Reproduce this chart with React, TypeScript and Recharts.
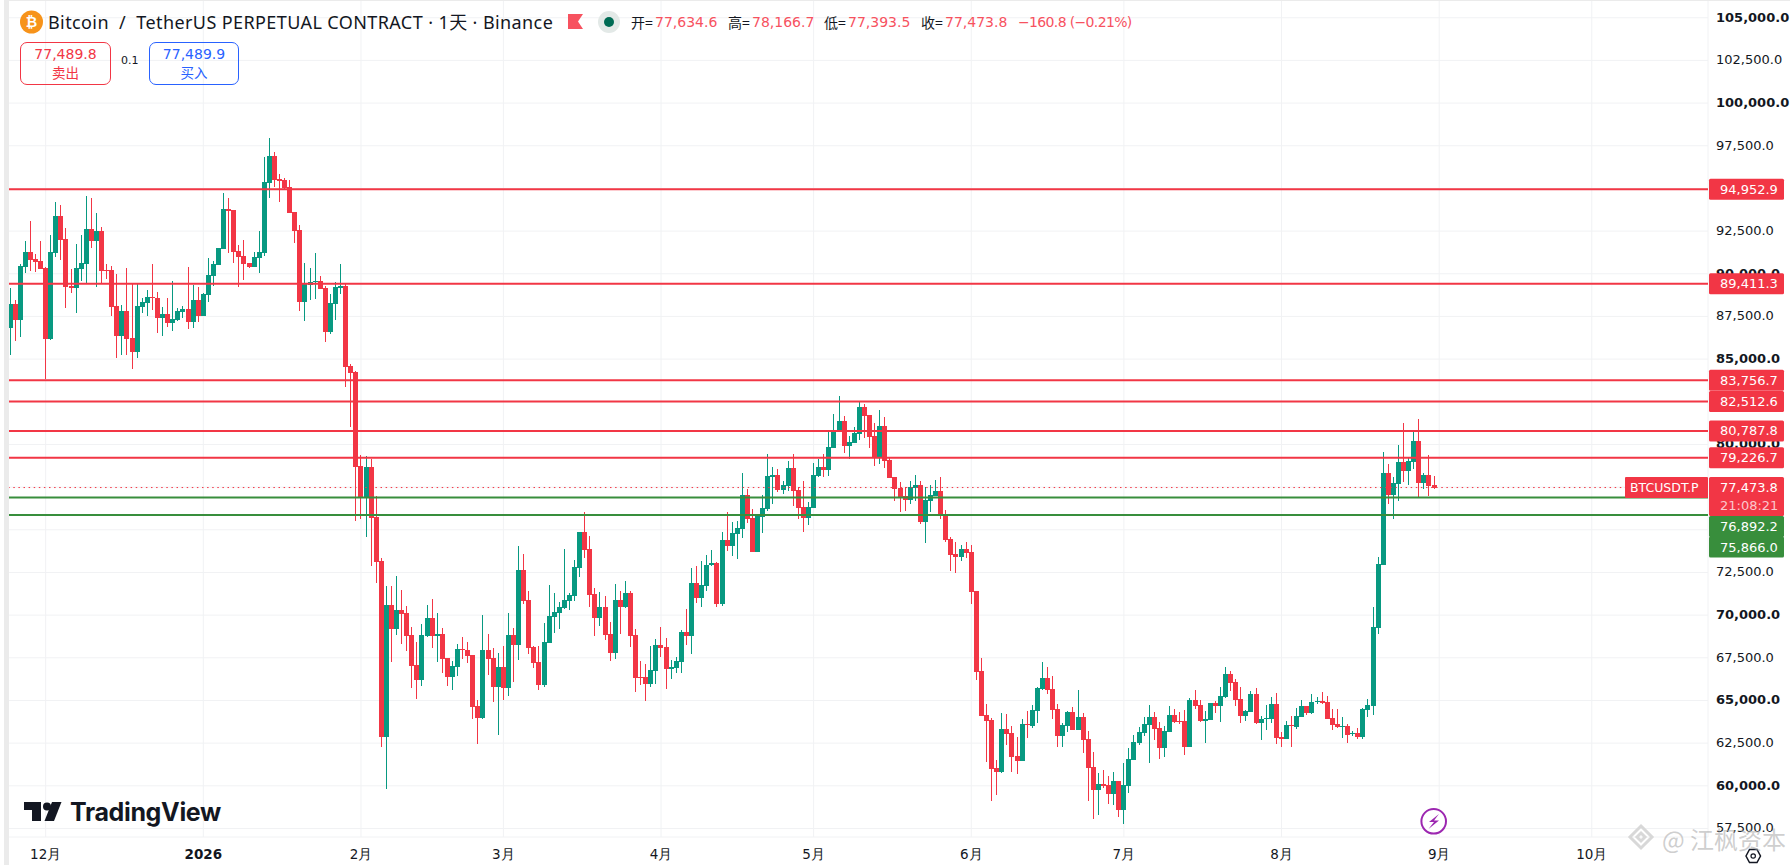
import React from 'react';
import { ComposedChart, Bar, XAxis, YAxis, CartesianGrid, ReferenceLine } from 'recharts';

// Daily candles as [open, high, low, close], by calendar month
const nov2025 = [[86798,89164,85254,88245],[88245,88479,86075,87306],[87306,90591,86309,90474],[90415,91940,90063,91295],[91295,93113,90180,90825],[90884,91177,90122,90708],[90767,91940,90298,90298]];
const dec2025 = [[90356,90415,83827,86192],[86192,92292,86133,91295],[91236,94227,91001,93406],[93406,94051,90825,91998],[92057,92702,88010,89242],[89301,90298,88890,89183],[89183,91764,87717,90356],[90298,92292,89594,90650],[90591,94579,89418,92644],[92644,94462,91529,91940],[91940,93582,89242,92526],[92526,92761,89418,90180],[90239,90591,89711,90180],[90239,90474,87541,88069],[88128,90004,85078,86368],[86368,88186,85254,87834],[87834,90356,85254,86192],[86251,89418,84433,85430],[85430,89418,85078,88128],[88069,88597,87717,88362],[88304,89066,87541,88655],[88655,90591,87893,88597],[88597,88949,86544,87424],[87424,88069,86368,87658],[87658,88597,86896,87131],[87131,89594,86661,87365],[87306,88010,87248,87834],[87776,88128,87424,87952],[87952,90415,86779,87189],[87189,89359,86837,88479],[88479,89242,87189,87541]];
const jan2026 = [[87541,88890,87541,88831],[88773,90943,88362,89946],[89887,90767,89301,90591],[90532,91529,90532,91529],[91471,94755,91471,93817],[93817,94462,91236,93699],[93758,93758,90650,91295],[91353,91705,89242,91001],[91060,91998,89652,90591],[90650,90650,90356,90415],[90415,91295,90415,91001],[90943,92526,90063,91295],[91236,96866,91060,95400],[95342,97981,94462,96925],[96925,97160,95107,95517],[95576,95869,94227,95459],[95517,95635,94931,95048],[95107,95517,93582,93582],[93641,93641,91823,92526],[92585,92878,87834,88362],[88362,90650,87248,89418],[89359,90356,88479,89535],[89535,91236,88538,89594],[89594,89887,89125,89125],[89183,89301,86016,86603],[86603,88831,86485,88304],[88245,89535,87306,89242],[89183,90591,88831,89301],[89301,89418,83377,84550],[84609,84726,81031,84198],[84257,84300,75520,78687]];
const feb2026 = [[78746,79391,75638,76869],[76869,79333,74582,78687],[78687,79157,72881,75696],[75755,76987,71884,73116],[73174,73350,62265,62852],[62852,71708,59802,70594],[70594,71708,67251,69186],[69186,72295,68834,70300],[70300,71473,68306,70066],[70125,70535,67896,68776],[68834,69303,65726,67016],[67075,68424,65081,66195],[66195,69479,65843,68834],[68776,70594,68717,69831],[69831,70946,68072,68776],[68776,70125,67251,68893],[68893,69245,66606,67427],[67485,67485,65843,66371],[66371,67309,65608,67016],[66957,68306,66430,68013],[68013,68717,67427,67954],[67954,68424,67192,67603],[67661,67661,63908,64611],[64670,65022,62441,63966],[63966,70007,63908,67954],[67954,68893,66488,67427],[67485,68072,64905,65784],[65784,67779,62969,66957]];
const mar2026 = [[66957,68189,65022,65726],[65726,70125,65257,68834],[68834,69245,66078,68248],[68248,74054,67368,72646],[72646,73585,70652,70828],[70887,71415,67720,68072],[68130,68189,66899,67192],[67251,68189,65608,65902],[65902,69538,65784,68424],[68365,71767,68365,69949],[69890,71298,68952,70183],[70125,70770,69186,70476],[70418,73878,70359,70887],[70828,71298,70300,71180],[71122,73233,70828,72822],[72764,74875,72236,74875],[74875,76048,73350,73819],[73878,74641,70476,71180],[71239,71591,68776,69831],[69831,71356,69362,70476],[70476,71122,68541,68834],[68893,69597,67309,67779],[67779,71825,67427,70887],[70887,71415,68893,70476],[70476,72001,70418,71298],[71298,71415,68130,68776],[68834,69186,65491,66312],[66371,67309,65902,66312],[66371,67133,64963,65960],[65960,68189,65784,66781],[66723,68600,65960,68248]];
const apr2026 = [[68248,69303,67544,68072],[68130,68658,65667,66840],[66840,67368,66254,66957],[66899,67544,66606,67309],[67251,69127,66606,69010],[69010,70359,68248,68776],[68776,72764,67720,71884],[71884,72881,70711,71004],[71004,73174,70476,71767],[71708,73526,71415,72940],[72920,73819,72880,73057],[73057,73116,70496,70652],[70652,74875,70555,74406],[74406,76048,73761,74054],[74054,75462,73468,74817],[74758,75520,73292,75110],[75051,78336,74523,77045],[77045,77397,75403,75638],[75696,76224,73702,73702],[73702,75931,73702,75872],[75755,77045,74817,76283],[76224,79450,76107,78160],[78101,78687,76517,78218],[78218,78570,77221,77338],[77338,77866,77104,77632],[77573,79039,77280,78629],[78629,79450,76400,77280],[77338,77514,75638,76283],[76341,77866,74875,75696],[75696,76635,75286,76341]];
const may2026 = [[76283,78922,76283,78218],[78160,79157,78101,78687],[78687,79450,78101,78511],[78511,80799,78160,79860],[79802,81796,79802,80857],[80799,82852,80740,81385],[81385,81679,79509,79919],[79919,80506,79157,80154],[80095,81033,80095,80682],[80623,82500,80271,82206],[82206,82382,80388,81679],[81737,81737,79802,80447],[80506,81268,78746,79235],[79235,82030,78863,81092],[81092,81620,78629,79039],[79098,79215,78042,78042],[78101,78101,76693,77397],[77456,77808,76048,76928],[76987,77514,76107,76752],[76752,77866,76517,77514],[77456,78218,76693,77632],[77632,77866,75344,75462],[75462,77514,74230,76752],[76693,77632,76048,77045],[76987,77925,76987,77280],[77280,78101,75638,75872],[75931,76165,74289,74406],[74465,74582,72588,73526],[73585,74289,72471,73409],[73409,74113,73174,73878],[73878,74289,73350,73644]];
const jun2026 = [[73702,74113,70652,71356],[71415,71415,66198,66687],[66726,67488,64087,64087],[64145,64790,61389,63793],[63852,63969,59101,60978],[61037,61506,59453,60802],[60802,64263,60744,63324],[63324,64204,62386,63031],[63090,63500,60802,61682],[61741,62855,60685,61447],[61447,63911,61447,63617],[63617,64380,62796,63559],[63500,64732,63383,64438],[64380,65787,63676,65729],[65670,67254,65611,66315],[66315,66960,65377,65611],[65670,66433,63911,64438],[64497,64790,62268,62914],[62914,63676,62268,63559],[63500,64380,63148,64321],[64321,64614,63265,63265],[63265,65611,63265,64028],[64028,64263,61917,62679],[62738,63207,59101,61037],[61095,61975,58046,59746],[59746,60744,58280,60098],[60098,60919,59864,59981],[60040,60568,58925,59512],[59512,60802,58867,60274],[60274,60274,58163,58573]];
const jul2026 = [[58573,61330,57752,60040],[59981,62210,59571,61565],[61506,62972,61506,62562],[62503,63441,62386,63148],[63090,64028,62914,63617],[63559,64732,61330,64028],[64028,64321,62679,63324],[63383,63735,61565,62210],[62210,63500,61682,63207],[63148,64673,63148,64145],[64145,64497,63676,63735],[63793,64321,63617,63735],[63793,64438,61799,62268],[62268,65142,62268,65025],[65025,65611,64497,64673],[64732,65025,63735,63793],[63793,64380,62503,63911],[63852,64849,63852,64849],[64849,64966,64263,64673],[64673,65787,63735,65260],[65201,66960,65142,66550],[66550,66726,65553,66022],[66081,66257,64673,65025],[65084,65787,63676,64087],[64087,64438,63793,64380],[64321,65553,64321,65377],[65377,65729,63617,63676],[63676,64087,62679,63911],[63911,64732,63265,63969],[63911,65201,63676,64790],[64790,65436,62444,62796]];
const aug2026 = [[62855,63148,62268,62738],[62738,63793,62738,63559],[63559,64087,62268,63500],[63441,64556,63324,64087],[64028,65025,64028,64673],[64673,64673,64145,64263],[64263,65377,64204,64908],[64908,65201,64790,64966],[64966,65494,64790,64849],[64908,65260,63911,63911],[63969,64497,63265,63559],[63617,64497,63383,63441],[63441,64028,62796,63500],[63500,63617,62503,62972],[63031,63207,62914,63090],[63090,63383,62738,62855],[62855,64556,62738,64497],[64438,65084,64028,64732],[64670,70476,64142,69303],[69244,73408,68892,72998],[72939,79567,72939,78335],[78335,78863,76517,77045],[77045,78100,75637,77749],[77690,79977,76693,78980],[78980,81268,77807,78452],[78452,79215,77631,79039],[78980,80857,78570,80212],[80212,81502,76869,77749],[77749,78335,77397,78218],[78218,79391,76986,77573],[77634.6,78166.7,77393.5,77473.8]];

const firstDay = -7;        // days are counted from 1 Dec 2025
const totalDays = 334;      // days shown on the time axis, including the empty future
const monthTicks = [0, 31, 62, 90, 121, 151, 182, 212, 243, 274, 304];
const monthLabels = ['12月', '2026', '2月', '3月', '4月', '5月', '6月', '7月', '8月', '9月', '10月'];
const priceTicks = [57500, 60000, 62500, 65000, 67500, 70000, 72500, 75000, 77500, 80000, 82500, 85000, 87500, 90000, 92500, 95000, 97500, 100000, 102500, 105000];
const priceDomain = [57000, 106040];
const resistance = [94952.9, 89411.3, 83756.7, 82512.6, 80787.8, 79226.7];
const support = [76892.2, 75866.0];
const lastPrice = 77473.8;
const countdown = '21:08:21';
const legendValues = ['77,634.6', '78,166.7', '77,393.5', '77,473.8'];
const legendNames = ['开=', '高=', '低=', '收='];

const UP = '#089981';
const DOWN = '#f23645';
const LINE_GREEN = '#388e3c';
const GRID = '#f1f2f4';
const AXIS_TEXT = '#131722';
const FONT = '"DejaVu Sans", sans-serif';
const TOP_LAYER = 3000;

const allCandles = [...nov2025, ...dec2025, ...jan2026, ...feb2026, ...mar2026, ...apr2026, ...may2026, ...jun2026, ...jul2026, ...aug2026];
const rows = Array.from({ length: totalDays }, (_, i) => {
  const c = allCandles[i];
  const day = firstDay + i;
  return c ? { day, open: c[0], high: c[1], low: c[2], close: c[3], range: [c[2], c[1]] } : { day };
});

const fmt = (v: number) => v.toLocaleString('en-US', { minimumFractionDigits: 1, maximumFractionDigits: 1 });

function Candle(props: any) {
  const { x, y, width, height, payload } = props;
  if (!payload || payload.open == null || !height) return null;
  const k = height / (payload.high - payload.low);
  const top = y + (payload.high - Math.max(payload.open, payload.close)) * k;
  const bottom = y + (payload.high - Math.min(payload.open, payload.close)) * k;
  const color = payload.close >= payload.open ? UP : DOWN;
  const cx = x + width / 2;
  const left = Math.round(cx - 2.5);
  const t = Math.round(top);
  return (
    <g shapeRendering="crispEdges">
      <rect x={left + 2} y={Math.round(y)} width={1} height={Math.max(1, Math.round(height))} fill={color} />
      <rect x={left} y={t} width={5} height={Math.max(1, Math.round(bottom) - t)} fill={color} />
    </g>
  );
}

function PriceTick(props: any) {
  const { x, y, payload } = props;
  const major = payload.value % 5000 === 0;
  return (
    <text x={x} y={y} dy={3.8} textAnchor="start" fontFamily={FONT} fontSize={13} fontWeight={major ? 700 : 400} fill={AXIS_TEXT}>
      {fmt(payload.value)}
    </text>
  );
}

function TimeTick(props: any) {
  const { x, y, payload } = props;
  const label = monthLabels[monthTicks.indexOf(payload.value)];
  return (
    <text x={x} y={y} dy={16} textAnchor="middle" fontFamily={FONT} fontSize={13.5} fontWeight={label === '2026' ? 700 : 400} fill={AXIS_TEXT}>
      {label}
    </text>
  );
}

function PriceBadge(props: any) {
  const { viewBox, text, fill, shift = 0 } = props;
  const right = viewBox.x + viewBox.width;
  const cy = viewBox.y + shift;
  return (
    <g>
      <rect x={right + 1} y={cy - 10.5} width={75} height={21} rx={1.5} fill={fill} />
      <text x={right + 12} y={cy + 4.5} fontFamily={FONT} fontSize={13} fill="#fff">{text}</text>
    </g>
  );
}

function LastPriceBadge(props: any) {
  const { viewBox } = props;
  const right = viewBox.x + viewBox.width;
  const cy = viewBox.y;
  return (
    <g>
      <rect x={right - 83} y={cy - 10.5} width={83} height={21} rx={1} fill={DOWN} />
      <text x={right - 78} y={cy + 4.5} fontFamily={FONT} fontSize={12.5} fill="#fff">BTCUSDT.P</text>
      <rect x={right + 1} y={cy - 10.5} width={75} height={39} rx={1.5} fill={DOWN} />
      <text x={right + 12} y={cy + 4.5} fontFamily={FONT} fontSize={13} fill="#fff">{fmt(lastPrice)}</text>
      <text x={right + 12} y={cy + 22} fontFamily={FONT} fontSize={13} fill="#fbc7cc">{countdown}</text>
    </g>
  );
}

const abs = (s: React.CSSProperties): React.CSSProperties => ({ position: 'absolute', whiteSpace: 'nowrap', ...s });
const legendX = [631, 728, 824, 921];

function Overlay() {
  const red = '#f7525f';
  const txt: React.CSSProperties = { fontFamily: FONT, fontSize: 14, lineHeight: '18px', top: 13 };
  const btn: React.CSSProperties = { top: 42, height: 43, boxSizing: 'border-box', borderRadius: 7, textAlign: 'center', fontFamily: FONT, fontSize: 14, lineHeight: '18px', paddingTop: 2 };
  const cjk: React.CSSProperties = { fontFamily: '"Noto Sans CJK SC"', fontSize: 13.5 };
  return (
    <>
      <div style={abs({ left: 4, top: 0, width: 5, height: 865, background: '#ebebeb' })} />
      <div style={abs({ left: 9, top: 0, width: 1781, height: 1, background: '#ebebeb' })} />
      <svg style={abs({ left: 0, top: 0 })} width={1790} height={865}>
        <circle cx={31.5} cy={22} r={11.5} fill="#f7931a" />
        <text x={31.5} y={27} textAnchor="middle" fontSize={14} fontWeight={700} fontFamily={FONT} fill="#fff">₿</text>
        <path d="M568 14 H583 L578 21.5 L583 29 H568 Z" fill="#f7525f" />
        <ellipse cx={609} cy={22} rx={11} ry={11} fill="#e3e9e7" />
        <circle cx={609} cy={22} r={5} fill="#006b54" />
        {/* TradingView mark */}
        <path d="M24 802 H41 V821 H32 V810 H24 Z" fill={AXIS_TEXT} />
        <circle cx={47} cy={806.5} r={4} fill={AXIS_TEXT} />
        <path d="M52 802 H61.5 L54 821 H44.5 Z" fill={AXIS_TEXT} />
        {/* alert icon */}
        <circle cx={1433.7} cy={821.3} r={12.3} fill="#fff" stroke="#9c27b0" strokeWidth={2} />
        <path d="M1439 814 L1429 822 H1434 L1428.5 829 L1439 820.5 H1434 Z" fill="#9c27b0" />
        {/* settings icon */}
        <path d="M1746 856 L1749.5 849.5 H1757 L1760.5 856 L1757 862.5 H1749.5 Z" fill="none" stroke={AXIS_TEXT} strokeWidth={1.5} />
        <circle cx={1753.2} cy={856} r={2.2} fill="none" stroke={AXIS_TEXT} strokeWidth={1.2} />
        {/* watermark logo */}
        <g fill="none" stroke="#d8d8d8" strokeWidth={3}>
          <path d="M1641 826 L1652 837 L1641 848 L1630 837 Z" />
          <path d="M1641 833 L1645 837 L1641 841 L1637 837 Z" />
        </g>
      </svg>
      <div style={abs({ left: 48, top: 10, fontFamily: '"Noto Sans", "Noto Sans CJK SC", sans-serif', fontSize: 18, letterSpacing: 0.4, lineHeight: '24px', color: AXIS_TEXT })}>
        {'Bitcoin\u00a0\u00a0/\u00a0\u00a0TetherUS PERPETUAL CONTRACT · 1天 · Binance'}
      </div>
      {legendNames.map((n, i) => (
        <React.Fragment key={n}>
          <span style={abs({ ...txt, left: legendX[i], color: AXIS_TEXT, fontFamily: '"Noto Sans CJK SC", ' + FONT })}>{n}</span>
          <span style={abs({ ...txt, left: legendX[i] + 24, color: red })}>{legendValues[i]}</span>
        </React.Fragment>
      ))}
      <span style={abs({ ...txt, left: 1018, color: red, letterSpacing: -0.65 })}>−160.8 (−0.21%)</span>
      <div style={abs({ ...btn, left: 20, width: 91, border: `1px solid ${DOWN}`, color: DOWN })}>
        77,489.8<br /><span style={cjk}>卖出</span>
      </div>
      <span style={abs({ left: 121, top: 54, fontFamily: FONT, fontSize: 11, color: AXIS_TEXT })}>0.1</span>
      <div style={abs({ ...btn, left: 149, width: 90, border: '1px solid #2962ff', color: '#2962ff' })}>
        77,489.9<br /><span style={cjk}>买入</span>
      </div>
      <div style={abs({ left: 70, top: 796, fontFamily: '"Inter", sans-serif', fontWeight: 700, fontSize: 25, lineHeight: '32px', letterSpacing: -0.35, color: AXIS_TEXT })}>TradingView</div>
      <div style={abs({ left: 1662, top: 823, fontFamily: '"Noto Sans CJK SC", sans-serif', fontSize: 24, lineHeight: '32px', color: 'rgba(165,165,165,0.55)' })}>@ 江枫资本</div>
    </>
  );
}

export default function App() {
  return (
    <div style={{ position: 'relative', width: 1790, height: 865, overflow: 'hidden', background: '#fff' }}>
      <style>{'body{margin:0}'}</style>
      <ComposedChart width={1790} height={865} data={rows} barCategoryGap={0} margin={{ top: 0, right: 0, bottom: 0, left: 7.5 }}>
        <CartesianGrid stroke={GRID} strokeWidth={1} />
        <XAxis dataKey="day" type="category" ticks={monthTicks} interval={0} height={28} tickLine={false} axisLine={false} tickMargin={0} padding={{ left: 0, right: 1.8 }} tick={<TimeTick />} />
        <YAxis orientation="right" width={82} domain={priceDomain} ticks={priceTicks} interval={0} tickLine={false} axisLine={false} tick={<PriceTick />} />
        <Bar dataKey="range" shape={<Candle />} isAnimationActive={false} />
        {resistance.map((p) => (
          <ReferenceLine key={p} y={p} stroke={DOWN} strokeWidth={2} zIndex={TOP_LAYER} label={<PriceBadge text={fmt(p)} fill={DOWN} />} />
        ))}
        <ReferenceLine y={support[0]} stroke={LINE_GREEN} strokeWidth={2} zIndex={TOP_LAYER} label={<PriceBadge text={fmt(support[0])} fill={LINE_GREEN} shift={29} />} />
        <ReferenceLine y={support[1]} stroke={LINE_GREEN} strokeWidth={2} zIndex={TOP_LAYER} label={<PriceBadge text={fmt(support[1])} fill={LINE_GREEN} shift={32} />} />
        <ReferenceLine y={lastPrice} stroke={DOWN} strokeWidth={1} strokeDasharray="1.5 3.6" zIndex={TOP_LAYER} label={<LastPriceBadge />} />
      </ComposedChart>
      <Overlay />
    </div>
  );
}
